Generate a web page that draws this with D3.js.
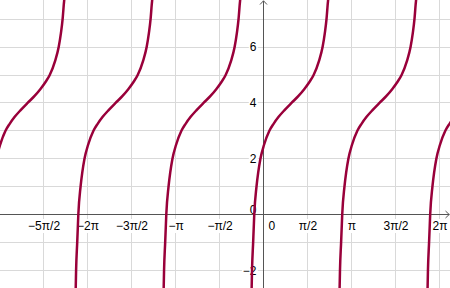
<!DOCTYPE html>
<html>
<head>
<meta charset="utf-8">
<script src="https://cdn.jsdelivr.net/npm/d3@7"></script>
<style>
    html, body {margin: 0; padding: 0; background: #fff; overflow: hidden;}
    svg {display: block;}
</style>
</head>
<body>
<svg id="chart" width="450" height="288"></svg>
<script>
/*************************************************************************************************************
 * Data
 *************************************************************************************************************/
// one branch of the curve: x relative to its branch, and y
let branchX = [-0.44, -0.43, -0.41, -0.37, -0.35, -0.33, -0.25, -0.19, -0.11, 0.02, 0.21, 0.36, 0.54,
    0.76, 1.00, 1.25, 1.46, 1.64, 1.79, 1.98, 2.11, 2.19, 2.25, 2.29, 2.33, 2.35];
let branchY = [-3.5, -3.0, -2.0, -1.0, -0.5, 0.0, 1.0, 1.5, 2.0, 2.5, 3.0, 3.25, 3.5,
    3.75, 4.0, 4.25, 4.5, 4.75, 5.0, 5.5, 6.0, 6.5, 7.0, 7.5, 8.0, 8.5];
// where the branches sit, in multiples of pi
let branchShifts = [-3, -2, -1, 0, 1, 2];

// x ticks in multiples of pi/2
let xTicks = [-5, -4, -3, -2, -1, 0, 1, 2, 3, 4];
let xTickLabels = ["−5π/2", "−2π", "−3π/2", "−π", "−π/2", "0", "π/2", "π", "3π/2", "2π"];
let yTicks = [-2, 0, 2, 4, 6];
let yGrid = [-2, -1, 1, 2, 3, 4, 5, 6, 7];

/*************************************************************************************************************
 * Drawing
 *************************************************************************************************************/
let width = 450, height = 288;
let svg = d3.select("#chart");

let x = d3.scaleLinear().domain([-263.5 / 28, 186.5 / 28]).range([0, width]),
    y = d3.scaleLinear().domain([-73.5 / 27.9, 214.5 / 27.9]).range([height, 0]);

let crisp = v => Math.floor(v) + 0.5;
let axisColor = "#555";
let font = "'Liberation Sans', Arial, sans-serif";

// grid
let grid = svg.append("g").attr("stroke", "#d9d9d9").attr("stroke-width", 1);
grid.selectAll(".vgrid")
    .data(xTicks.filter(d => d !== 0))
    .enter().append("line")
    .attr("class", "vgrid")
    .attr("x1", d => crisp(x(d * Math.PI / 2)))
    .attr("x2", d => crisp(x(d * Math.PI / 2)))
    .attr("y1", 0)
    .attr("y2", height);
grid.selectAll(".hgrid")
    .data(yGrid)
    .enter().append("line")
    .attr("class", "hgrid")
    .attr("x1", 0)
    .attr("x2", width)
    .attr("y1", d => crisp(y(d)))
    .attr("y2", d => crisp(y(d)));

let x0 = crisp(x(0)), y0 = crisp(y(0));

// tick labels
let xAxis = svg.append("g")
    .attr("transform", "translate(0," + y0 + ")")
    .call(d3.axisBottom(x)
        .tickValues(xTicks.map(d => d * Math.PI / 2))
        .tickFormat((d, i) => xTickLabels[i])
        .tickSize(0)
        .tickPadding(7));

let yAxis = svg.append("g")
    .attr("transform", "translate(" + x0 + ",0)")
    .call(d3.axisLeft(y)
        .tickValues(yTicks)
        .tickSize(0)
        .tickPadding(7));

[xAxis, yAxis].forEach(g => {
    g.select(".domain").remove();
    g.selectAll("text")
        .attr("fill", "#000")
        .style("font-family", font)
        .style("font-size", "12px");
});

// the two zeros at the origin
xAxis.selectAll(".tick text")
    .filter(d => d === 0)
    .attr("text-anchor", "start")
    .attr("x", 4.5);
yAxis.selectAll(".tick text")
    .filter(d => d === 0)
    .attr("dy", "-0.12em");

// white boxes behind the labels
svg.selectAll(".tick").each(function () {
    let t = d3.select(this).select("text");
    let b = t.node().getBBox();
    d3.select(this).insert("rect", "text")
        .attr("x", b.x - 1)
        .attr("y", b.y)
        .attr("width", b.width + 2)
        .attr("height", b.height)
        .attr("fill", "#fff");
});

// axes with open arrow heads
let axes = svg.append("g")
    .attr("stroke", axisColor)
    .attr("stroke-width", 1)
    .attr("fill", "none");
axes.append("line")
    .attr("x1", 0).attr("x2", width - 0.5)
    .attr("y1", y0).attr("y2", y0);
axes.append("path")
    .attr("d", "M" + (width - 4.5) + "," + (y0 - 3.5) + "L" + (width - 0.8) + "," + y0 + "L" + (width - 4.5) + "," + (y0 + 3.5));
axes.append("line")
    .attr("x1", x0).attr("x2", x0)
    .attr("y1", 0.8).attr("y2", height);
axes.append("path")
    .attr("d", "M" + (x0 - 3.5) + ",4.5L" + x0 + ",0.8L" + (x0 + 3.5) + ",4.5");

// curve
let line = d3.line()
    .curve(d3.curveMonotoneX)
    .x(d => x(d[0]))
    .y(d => y(d[1]));

svg.append("g")
    .selectAll(".branch")
    .data(branchShifts)
    .enter().append("path")
    .attr("class", "branch")
    .attr("fill", "none")
    .attr("stroke", "#99003a")
    .attr("stroke-width", 2.5)
    .attr("stroke-linejoin", "round")
    .attr("d", k => line(branchX.map((bx, i) => [bx + k * Math.PI, branchY[i]])));
</script>
</body>
</html>
